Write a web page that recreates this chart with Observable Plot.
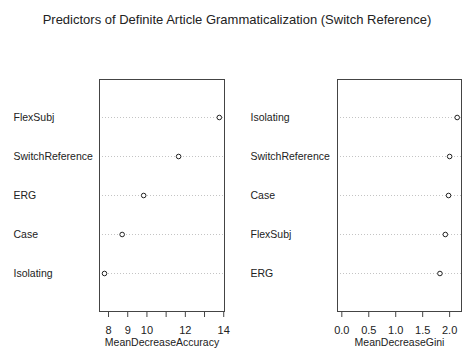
<!DOCTYPE html>
<html><head><meta charset="utf-8">
<script src="https://cdn.jsdelivr.net/npm/d3@7"></script>
<script src="https://cdn.jsdelivr.net/npm/@observablehq/plot@0.6"></script>
<style>
body{margin:0;background:#fff;}
#wrap{position:relative;width:474px;height:364px;font-family:"Liberation Sans",Arial,sans-serif;overflow:hidden;}
#title{position:absolute;top:12px;left:0;width:474px;text-align:center;font-size:13px;line-height:15px;color:#222;}
#left,#right{position:absolute;top:0;}
#left{left:0}
#right{left:237px}
</style></head><body>
<div id="wrap">
  <div id="title">Predictors of Definite Article Grammaticalization (Switch Reference)</div>
  <div id="left"></div>
  <div id="right"></div>
</div>
<script>
const accVars = ["FlexSubj", "SwitchReference", "ERG", "Case", "Isolating"];
const accVals = [13.77, 11.65, 9.83, 8.71, 7.79];
const giniVars = ["Isolating", "SwitchReference", "Case", "FlexSubj", "ERG"];
const giniVals = [2.14, 2.00, 1.98, 1.92, 1.82];
const accTicks = [8, 9, 10, 11, 12, 13, 14];
const accTickLabels = ["8", "9", "10", "", "12", "", "14"];
const giniTicks = [0, 0.5, 1, 1.5, 2];
const giniTickLabels = ["0.0", "0.5", "1.0", "1.5", "2.0"];

function panel(vars, vals, domain, ticks, tickLabels, axisLabel, marginLeft, marginRight) {
  const data = vars.map((v, i) => ({name: v, value: vals[i]}));
  return Plot.plot({
    width: 237,
    height: 364,
    marginTop: 79,
    marginBottom: 53,
    marginLeft,
    marginRight,
    style: {fontFamily: "'Liberation Sans', Arial, sans-serif", fontSize: "10.5px", background: "transparent", color: "#222", overflow: "visible"},
    x: {domain},
    y: {type: "point", domain: vars, padding: 0.97, axis: null},
    marks: [
      Plot.ruleY(vars, {y: d => d, stroke: "#c4c4c4", strokeDasharray: "1,2", strokeWidth: 1}),
      Plot.frame({stroke: "#444", strokeWidth: 1}),
      Plot.dot(data, {x: "value", y: "name", r: 2.3, stroke: "#222", strokeWidth: 1, fill: "white"}),
      Plot.text(vars, {y: d => d, text: d => d, frameAnchor: "left", textAnchor: "start", dx: -(marginLeft - 13), fill: "#222"}),
      Plot.axisX({
        ticks,
        tickFormat: d => tickLabels[ticks.indexOf(d)],
        tickSize: 6,
        tickPadding: 9,
        stroke: "#444",
        fill: "#222",
        fontSize: 11,
        label: null
      }),
      Plot.text([axisLabel], {text: d => d, frameAnchor: "bottom", dy: 34, fill: "#222"})
    ]
  });
}

document.getElementById("left").append(
  panel(accVars, accVals, [7.53, 14.04], accTicks, accTickLabels, "MeanDecreaseAccuracy", 99, 13)
);
document.getElementById("right").append(
  panel(giniVars, giniVals, [-0.08, 2.22], giniTicks, giniTickLabels, "MeanDecreaseGini", 100, 13)
);
</script>
</body></html>
